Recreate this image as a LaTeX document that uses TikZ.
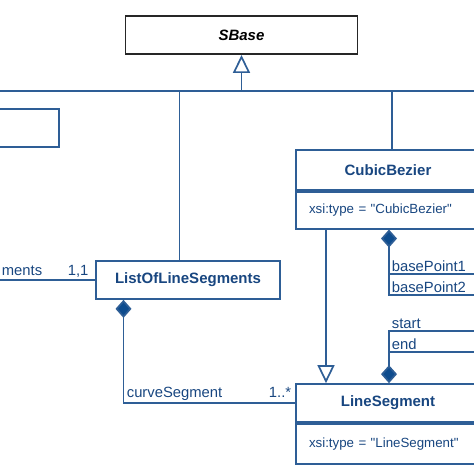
\documentclass[tikz,border=0pt]{standalone}
\usepackage{fontspec}
\setmainfont{Liberation Sans}
\usetikzlibrary{arrows.meta, positioning}
\definecolor{umlline}{RGB}{46,94,150}
\definecolor{umltext}{RGB}{24,70,128}
\definecolor{umlfill}{RGB}{14,76,142}

\begin{document}
\begin{tikzpicture}[x=1pt, y=-1pt, line width=1.7pt,
    every node/.style={font=\fontsize{14.8}{17}\selectfont, text=umltext},
    cls/.style={draw=umlline, fill=white, minimum width=184pt, minimum height=38pt,
      inner sep=0pt, font=\fontsize{15}{18}\selectfont\bfseries},
    attr/.style={draw=umlline, fill=white, minimum width=184pt, text width=158pt,
      inner xsep=13pt, inner ysep=0pt, align=left, font=\fontsize{13.3}{16}\selectfont},
    role/.style={inner sep=0pt, anchor=base west},
    gen/.style={-{Triangle[open, length=18pt, width=17pt]}},
    comp/.style={{Diamond[length=18pt, width=16pt, fill=umlfill]}-}]

  \useasboundingbox (0,0) rectangle (474,474);
  \clip (0,0) rectangle (474,474);

  \node[draw=black!85, line width=1.9pt, minimum width=232pt, minimum height=38pt, inner sep=0pt,
    text=black, font=\fontsize{15}{18}\selectfont\bfseries\itshape] (sbase) at (241.5,35) {SBase};

  \coordinate (busL) at (-5,91);
  \coordinate (busR) at (480,91);
  \coordinate (jS) at (241.5,91);
  \draw[umlline] (busL) -- (busR);
  \draw[umlline, gen] (jS) -- (sbase);

  \node[cls, minimum width=258pt] (leftcls) at (-70,128) {};

  \node[cls] (list) at (188,280) {ListOfLineSegments};
  \coordinate (jL) at (179.5,91);
  \draw[umlline] (jL) -- (jL |- list.north);

  \node[cls, minimum height=40pt] (cubic) at (388,170) {CubicBezier};
  \node[attr, minimum height=37pt, anchor=north] (cubicattr) at (cubic.south)
    {xsi:type = \textquotedbl CubicBezier\textquotedbl};
  \coordinate (jC) at (392,91);
  \draw[umlline] (jC) -- (jC |- cubic.north);

  \node[cls] (line) at (388,403) {LineSegment};
  \node[attr, minimum height=40pt, anchor=north] (lineattr) at (line.south)
    {xsi:type = \textquotedbl LineSegment\textquotedbl};
  \draw[umlline, gen] ([xshift=-62pt]cubicattr.south) -- ([xshift=-62pt]line.north);

  \coordinate (leftEnd) at (-5,280);
  \draw[umlline] (leftEnd) -- (list.west);
  \node[role] (segRole) at (1,275) {ments};
  \node[role] (segMult) at (67,275) {1,1};

  \draw[umlline, comp] ([xshift=-64.5pt]list.south) |- (line.west);
  \node[role] (curveRole) at (126,397) {curveSegment};
  \node[role, anchor=base east] (curveMult) at (292,397) {1..*};

  \coordinate (bpTrunk) at ([xshift=1pt]cubicattr.south);
  \coordinate (bp1) at (480,274);
  \coordinate (bp2) at (480,295);
  \draw[umlline, comp] (bpTrunk) |- (bp2);
  \draw[umlline] (bpTrunk |- bp1) -- (bp1);
  \node[role] (bp1Role) at (391,271) {basePoint1};
  \node[role] (bp2Role) at (391,292) {basePoint2};

  \coordinate (seTrunk) at ([xshift=1pt]line.north);
  \coordinate (ptS) at (480,331);
  \coordinate (ptE) at (480,352);
  \draw[umlline, comp] (seTrunk) |- (ptS);
  \draw[umlline] (seTrunk |- ptE) -- (ptE);
  \node[role] (startRole) at (391,328) {start};
  \node[role] (endRole) at (391,349) {end};

\end{tikzpicture}
\end{document}
